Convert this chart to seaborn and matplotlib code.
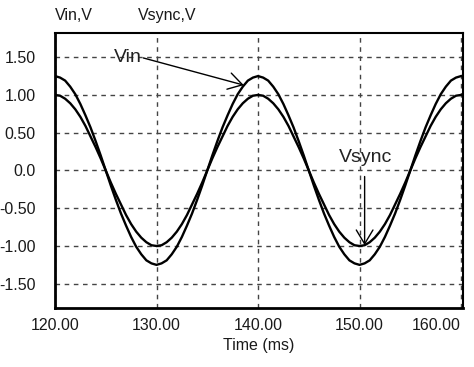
import numpy as np
import pandas as pd
import matplotlib
matplotlib.use('Agg')
import matplotlib.pyplot as plt
import seaborn as sns

# values (time step 0.5 ms)
time_ms = [120 + 0.5 * i for i in range(82)]

vin = [1.25, 1.23, 1.19, 1.11, 1.01, 0.88, 0.73, 0.57, 0.39, 0.20, 0.00,
       -0.20, -0.39, -0.57, -0.73, -0.88, -1.01, -1.11, -1.19, -1.23, -1.25,
       -1.23, -1.19, -1.11, -1.01, -0.88, -0.73, -0.57, -0.39, -0.20, 0.00,
       0.20, 0.39, 0.57, 0.73, 0.88, 1.01, 1.11, 1.19, 1.23, 1.25,
       1.23, 1.19, 1.11, 1.01, 0.88, 0.73, 0.57, 0.39, 0.20, 0.00,
       -0.20, -0.39, -0.57, -0.73, -0.88, -1.01, -1.11, -1.19, -1.23, -1.25,
       -1.23, -1.19, -1.11, -1.01, -0.88, -0.73, -0.57, -0.39, -0.20, 0.00,
       0.20, 0.39, 0.57, 0.73, 0.88, 1.01, 1.11, 1.19, 1.23, 1.25,
       1.23]

vsync = [1.00, 0.99, 0.95, 0.89, 0.81, 0.71, 0.59, 0.45, 0.31, 0.16, 0.00,
         -0.16, -0.31, -0.45, -0.59, -0.71, -0.81, -0.89, -0.95, -0.99, -1.00,
         -0.99, -0.95, -0.89, -0.81, -0.71, -0.59, -0.45, -0.31, -0.16, 0.00,
         0.16, 0.31, 0.45, 0.59, 0.71, 0.81, 0.89, 0.95, 0.99, 1.00,
         0.99, 0.95, 0.89, 0.81, 0.71, 0.59, 0.45, 0.31, 0.16, 0.00,
         -0.16, -0.31, -0.45, -0.59, -0.71, -0.81, -0.89, -0.95, -0.99, -1.00,
         -0.99, -0.95, -0.89, -0.81, -0.71, -0.59, -0.45, -0.31, -0.16, 0.00,
         0.16, 0.31, 0.45, 0.59, 0.71, 0.81, 0.89, 0.95, 0.99, 1.00,
         0.99]

x_ticks = [120, 130, 140, 150, 160]
x_tick_labels = ['120.00', '130.00', '140.00', '150.00', '160.00']
y_ticks = [1.5, 1.0, 0.5, 0.0, -0.5, -1.0, -1.5]
y_tick_labels = ['1.50', '1.00', '0.50', '0.0', '-0.50', '-1.00', '-1.50']

df = pd.DataFrame({'Time': time_ms, 'Vin': vin, 'Vsync': vsync})

sns.set_style('white')
plt.rcParams['font.family'] = ['Liberation Sans', 'DejaVu Sans']

fig = plt.figure(figsize=(4.74, 3.67), dpi=100)
ax = fig.add_axes([0.116, 0.161, 0.861, 0.749])

sns.lineplot(data=df, x='Time', y='Vin', color='black', lw=1.7, sort=False, ax=ax)
sns.lineplot(data=df, x='Time', y='Vsync', color='black', lw=1.7, sort=False, ax=ax)

ax.set_xlim(120, 160.2)
ax.set_ylim(-1.82, 1.82)
ax.set_xticks(x_ticks)
ax.set_xticklabels(x_tick_labels, fontsize=11.5)
ax.get_xticklabels()[-1].set_horizontalalignment('right')
ax.set_yticks(y_ticks)
ax.set_yticklabels(y_tick_labels, fontsize=11.5)
ax.tick_params(axis='both', length=0, colors='#1a1a1a')
ax.tick_params(axis='y', pad=14)
ax.tick_params(axis='x', pad=7)
ax.set_xlabel('Time (ms)', fontsize=11.5, labelpad=4, color='#1a1a1a')
ax.set_ylabel('')

ax.grid(True, linestyle=(0, (3.3, 3.3)), color='#444444', lw=1.0)
for side in ['left', 'bottom', 'top', 'right']:
    ax.spines[side].set_visible(True)
    ax.spines[side].set_color('black')
    ax.spines[side].set_linewidth(1.5)
ax.spines['left'].set_linewidth(2)
ax.spines['bottom'].set_linewidth(2)

# annotations
arrow = dict(arrowstyle='->,head_length=0.5,head_width=0.3', lw=1, color='black',
             shrinkA=0, shrinkB=0, mutation_scale=20)
ax.text(127.2, 1.50, 'Vin', ha='center', va='center', fontsize=14, color='#222222')
ax.annotate('', xy=(138.6, 1.13), xytext=(128.7, 1.49), arrowprops=arrow)
ax.text(150.6, 0.17, 'Vsync', ha='center', va='center', fontsize=14, color='#222222')
ax.annotate('', xy=(150.5, -0.99), xytext=(150.5, -0.08), arrowprops=arrow)

fig.text(55 / 474, 0.959, 'Vin,V', ha='left', va='center', fontsize=11.5, color='#1a1a1a')
fig.text(138 / 474, 0.959, 'Vsync,V', ha='left', va='center', fontsize=11.5, color='#1a1a1a')

fig.savefig('out.png', dpi=100)
